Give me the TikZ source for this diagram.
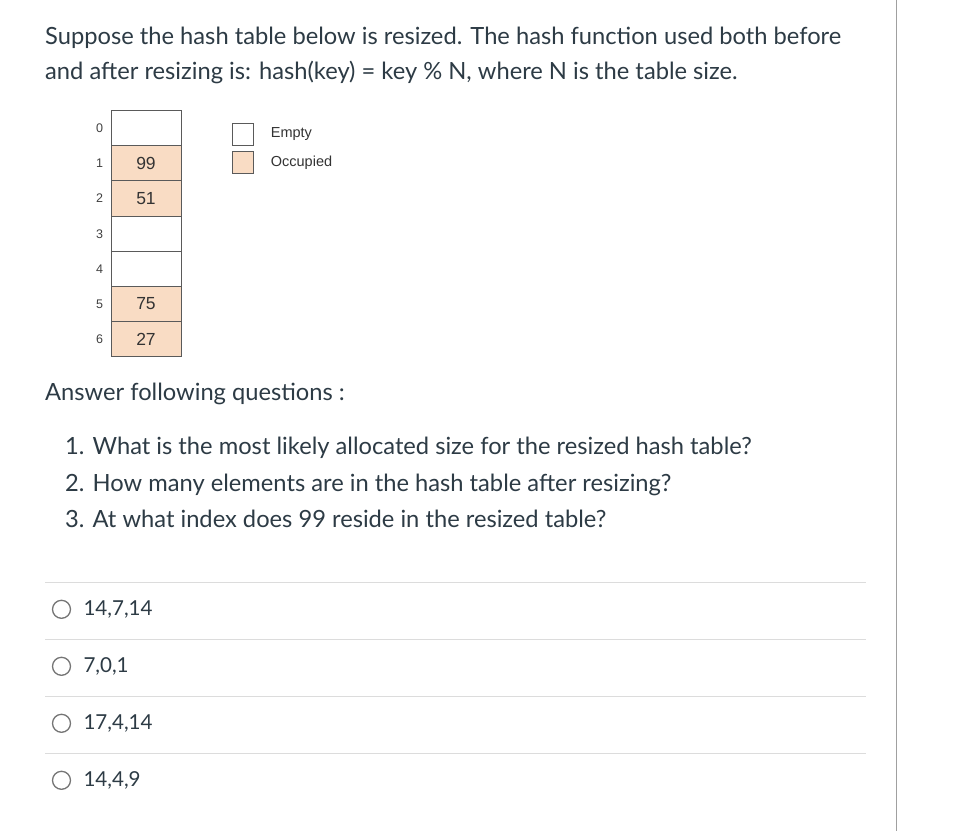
\documentclass[tikz,border=0pt]{standalone}
\usepackage{fontspec}
\setmainfont{Lato}
\newfontfamily\arialf{Liberation Sans}
\definecolor{txt}{HTML}{2D3B45}
\definecolor{occ}{HTML}{F9DCC4}
\definecolor{cellborder}{HTML}{5A5A5A}
\definecolor{sepline}{HTML}{DCDCDC}
\definecolor{vline}{HTML}{A0A0A0}
\definecolor{radio}{HTML}{757575}
\tikzset{
  qtext/.style={anchor=base west, inner sep=0pt, text=txt, font=\fontsize{23.7}{28}\selectfont},
  otext/.style={anchor=base west, inner sep=0pt, text=txt, font=\fontsize{20.6}{24}\selectfont},
  cellbox/.style={draw=cellborder, line width=1pt, minimum width=70pt, minimum height=35.14pt, inner sep=0pt, anchor=center, font=\arialf\fontsize{17.5}{20}\selectfont, text=black!80},
  idx/.style={inner sep=0pt, anchor=center, font=\arialf\fontsize{12.5}{15}\selectfont, text=black!75},
  legbox/.style={draw=cellborder, line width=1pt, minimum width=21.3pt, minimum height=21.7pt, inner sep=0pt, anchor=center},
  legtext/.style={anchor=west, inner sep=0pt, font=\arialf\fontsize{14.5}{17}\selectfont, text=black!80},
  radiobtn/.style={circle, draw=radio, line width=1.3pt, minimum size=18pt, inner sep=0pt},
  sep/.style={draw=sepline, line width=1.2pt}
}
\begin{document}
\begin{tikzpicture}[x=1pt,y=-1pt]
\useasboundingbox (0,0) rectangle (962,831);
\fill[white] (0,0) rectangle (962,831);
% vertical border line
\coordinate (vt) at (896.3,0);
\coordinate (vb) at (896.3,831);
\draw[vline, line width=1.5pt] (vt) -- (vb);
% intro text
\node[qtext] (l1) at (45,44.5) {Suppose the hash table below is resized. The hash function used both before};
\node[qtext] (l2) at (45,79.5) {and after resizing is: hash(key) = key \% N, where N is the table size.};
% table
\foreach \i/\v/\f in {0//white,1/99/occ,2/51/occ,3//white,4//white,5/75/occ,6/27/occ}{
  \node[cellbox, fill=\f] (cell\i) at (146,{110.7+35.14*(\i+0.5)}) {\v};
  \node[idx] (idx\i) at (99.5,{110.7+35.14*(\i+0.5)}) {\i};
}
% legend
\node[legbox, fill=white] (lempty) at (243.3,134.2) {};
\node[legbox, fill=occ] (locc) at (243.3,162.5) {};
\node[legtext] (tempty) at (270.7,134.2) {Empty};
\node[legtext] (tocc) at (270.7,162.5) {Occupied};
% questions
\node[qtext] (ans) at (45,400) {Answer following questions :};
\node[qtext] (q1) at (65,454.5) {1. What is the most likely allocated size for the resized hash table?};
\node[qtext] (q2) at (65,491) {2. How many elements are in the hash table after resizing?};
\node[qtext] (q3) at (65,527.5) {3. At what index does 99 reside in the resized table?};
% options
\foreach \k/\t in {0/{14,7,14},1/{7,0,1},2/{17,4,14},3/{14,4,9}}{
  \draw[sep] (45,{582.3+57*\k}) -- (866,{582.3+57*\k});
  \node[radiobtn] (r\k) at (61.5,{609.3+57*\k}) {};
  \node[otext] (o\k) at (83.3,{615.5+57*\k}) {\t};
}
\end{tikzpicture}
\end{document}
